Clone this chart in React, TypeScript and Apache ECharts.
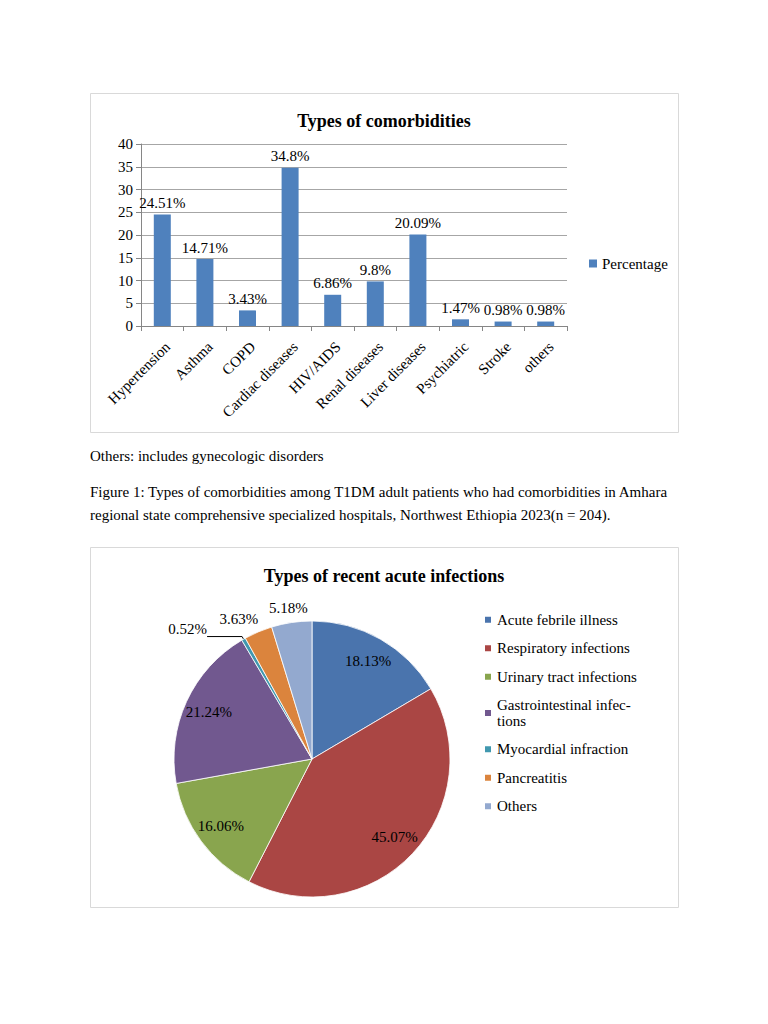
import React, { useEffect, useRef } from "react";
import * as echarts from "echarts";

const barCategories = [
  "Hypertension", "Asthma", "COPD", "Cardiac diseases", "HIV/AIDS",
  "Renal diseases", "Liver diseases", "Psychiatric", "Stroke", "others",
];
const barValues = [24.51, 14.71, 3.43, 34.8, 6.86, 9.8, 20.09, 1.47, 0.98, 0.98];
const barSeriesName = "Percentage";
const yTicks = { min: 0, max: 40, interval: 5 };

const pieNames = [
  "Acute febrile illness", "Respiratory infections", "Urinary tract infections",
  "Gastrointestinal infections", "Myocardial infraction", "Pancreatitis", "Others",
];
const pieValues = [18.13, 45.07, 16.06, 21.24, 0.52, 3.63, 5.18];
const pieColors = ["#4a74ad", "#aa4644", "#89a54e", "#71588f", "#4198af", "#db843d", "#93a9cf"];

const title1 = "Types of comorbidities";
const title2 = "Types of recent acute infections";
const note = "Others: includes gynecologic disorders";
const caption1 = "Figure 1: Types of comorbidities among T1DM adult patients who had comorbidities in Amhara";
const caption2 = "regional state comprehensive specialized hospitals, Northwest Ethiopia 2023(n = 204).";

const FONT = "'Liberation Serif', 'Times New Roman', serif";
const insideIdx = [0, 1, 2, 3];

export default function App() {
  const ref = useRef<HTMLDivElement>(null);
  useEffect(() => {
    if (!ref.current) return;
    const chart = echarts.init(ref.current, undefined, { renderer: "svg" });
    const pieCenter = [312, 759];
    const R = 138;

    const mainPieData = pieNames.map((n, i) => {
      const base: any = { name: n, value: pieValues[i], itemStyle: { color: pieColors[i] } };
      if (insideIdx.includes(i)) {
        base.label = { show: false };
        base.labelLine = { show: false };
      } else if (i === 4) {
        base.label = { show: true, position: "outside", distanceToLabelLine: 0 };
        base.labelLine = { show: true, length: 3, length2: 35, lineStyle: { color: "#000", width: 1 } };
      } else if (i === 5) {
        base.label = { show: true, position: "outside", distanceToLabelLine: 14 };
        base.labelLine = { show: false, length: 14, length2: 0 };
      } else {
        base.label = { show: true, position: "outside", distanceToLabelLine: 1 };
        base.labelLine = { show: false, length: 15, length2: 0 };
      }
      return base;
    });

    const overlayData = pieNames.map((n, i) => ({
      name: n,
      value: pieValues[i],
      label: { show: insideIdx.includes(i) },
    }));

    chart.setOption({
      animation: false,
      backgroundColor: "#fff",
      textStyle: { fontFamily: FONT },
      title: [
        {
          text: title1, left: "center", top: 107,
          textStyle: { fontFamily: FONT, fontSize: 18, fontWeight: "bold", color: "#000" },
        },
        {
          text: title2, left: "center", top: 562,
          textStyle: { fontFamily: FONT, fontSize: 18, fontWeight: "bold", color: "#000" },
        },
      ],
      graphic: [
        { type: "rect", shape: { x: 90.5, y: 93.5, width: 588, height: 339 }, style: { fill: "none", stroke: "#d9d9d9", lineWidth: 1 }, silent: true },
        { type: "rect", shape: { x: 90.5, y: 547.5, width: 588, height: 360 }, style: { fill: "none", stroke: "#d9d9d9", lineWidth: 1 }, silent: true },
        { type: "text", x: 90, y: 456, style: { text: note, font: `15px ${FONT}`, fill: "#000", verticalAlign: "middle" } },
        { type: "text", x: 90, y: 492, style: { text: caption1, font: `15px ${FONT}`, fill: "#000", verticalAlign: "middle" } },
        { type: "text", x: 90, y: 515, style: { text: caption2, font: `15px ${FONT}`, fill: "#000", verticalAlign: "middle" } },
      ],
      legend: [
        {
          data: [barSeriesName], left: 584, top: 251, orient: "vertical",
          icon: "rect", itemWidth: 8, itemHeight: 8,
          textStyle: { fontFamily: FONT, fontSize: 15, color: "#000" },
        },
        {
          data: pieNames, left: 478, top: 607, orient: "vertical",
          icon: "rect", itemWidth: 8, itemHeight: 8, itemGap: 13,
          formatter: (name: string) => (name === "Gastrointestinal infections" ? "Gastrointestinal infec-\ntions" : name),
          textStyle: { fontFamily: FONT, fontSize: 15, color: "#000", lineHeight: 15.5 },
        },
      ],
      grid: { left: 141, top: 144, width: 426, height: 182, containLabel: false },
      xAxis: {
        type: "category",
        data: barCategories,
        axisLine: { lineStyle: { color: "#868686" } },
        axisTick: { show: true, length: 5, lineStyle: { color: "#868686" } },
        axisLabel: {
          rotate: 45, fontFamily: FONT, fontSize: 15, color: "#000",
          margin: 13, verticalAlign: "top",
        },
      },
      yAxis: {
        type: "value",
        min: yTicks.min, max: yTicks.max, interval: yTicks.interval,
        axisLine: { show: true, lineStyle: { color: "#868686" } },
        axisTick: { show: true, length: 5, lineStyle: { color: "#868686" } },
        splitLine: { lineStyle: { color: "#a6a6a6" } },
        axisLabel: { fontFamily: FONT, fontSize: 15, color: "#000", margin: 8 },
      },
      series: [
        {
          name: barSeriesName,
          type: "bar",
          data: barValues,
          barWidth: 17,
          itemStyle: { color: "#4f81bd" },
          label: {
            show: true, position: "top", distance: 4,
            formatter: (p: any) => `${p.value}%`,
            fontFamily: FONT, fontSize: 15, color: "#000",
          },
        },
        {
          name: "pie-main",
          type: "pie",
          center: pieCenter,
          radius: [0, R],
          startAngle: 90,
          clockwise: true,
          avoidLabelOverlap: false,
          data: mainPieData,
          itemStyle: { borderColor: "#fff", borderWidth: 0.8 },
          label: {
            fontFamily: FONT, fontSize: 15, color: "#000",
            formatter: (p: any) => `${p.value}%`,
          },
          labelLayout: (p: any) => {
            if (p.dataIndex === 4) return { verticalAlign: "bottom" };
            if (p.dataIndex === 5 || p.dataIndex === 6) return { align: "center" };
            return {};
          },
          emphasis: { disabled: true },
        },
        {
          name: "pie-labels",
          type: "pie",
          center: pieCenter,
          radius: [R * 0.6, R],
          startAngle: 90,
          clockwise: true,
          silent: true,
          avoidLabelOverlap: false,
          data: overlayData,
          itemStyle: { color: "rgba(0,0,0,0)", borderWidth: 0 },
          label: {
            position: "inside",
            fontFamily: FONT, fontSize: 15, color: "#000",
            formatter: (p: any) => `${p.value}%`,
          },
          labelLine: { show: false },
          emphasis: { disabled: true },
        },
      ],
    });
    return () => chart.dispose();
  }, []);
  return (
    <div
      ref={ref}
      style={{ position: "absolute", left: 0, top: 0, width: 768, height: 1024 }}
    />
  );
}
